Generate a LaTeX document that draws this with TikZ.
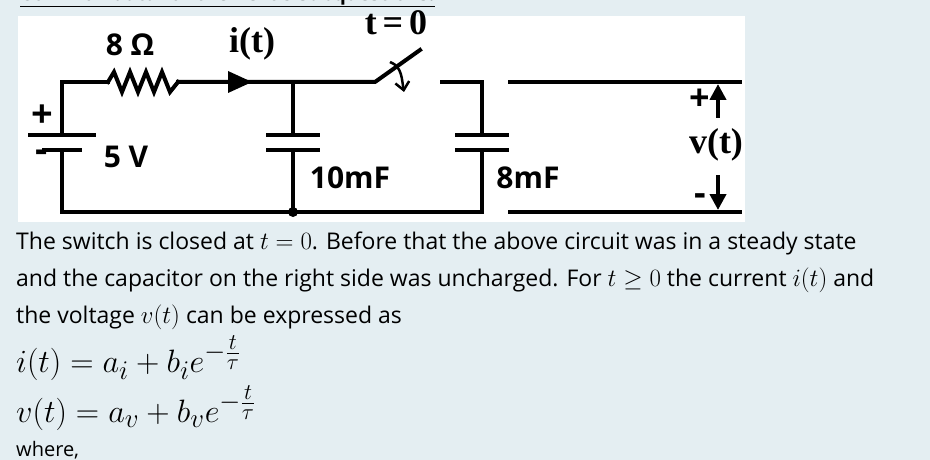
\documentclass[tikz,border=0pt]{standalone}
\usepackage{graphicx}
\usepackage{fontspec}
\setmainfont{Open Sans}
\newfontfamily\serifb{Liberation Serif}
\usetikzlibrary{arrows.meta}
\definecolor{bg}{HTML}{E4EEF2}
\tikzset{w/.style={line width=4pt,line cap=rect},
 lab/.style={font=\fontsize{30}{30}\selectfont\bfseries,inner sep=0pt},
 slab/.style={font=\fontsize{36}{36}\selectfont\serifb\bfseries,inner sep=0pt},
 txt/.style={font=\fontsize{23}{23}\selectfont,anchor=west,inner sep=0pt}}
\begin{document}
\begin{tikzpicture}[x=1pt,y=-1pt]
\useasboundingbox (0,0) rectangle (930,460);
\fill[bg] (0,0) rectangle (930,460);
\fill[white] (18,16) rectangle (745,222);
\node[txt,font=\fontsize{19.5}{19.5}\selectfont\bfseries] (hd) at (20,-4) {\underline{Common data for the next 5 subquestions:}};
% coordinates
\coordinate (bl) at (62,212); \coordinate (tl) at (62,82);
\coordinate (r1) at (108,82); \coordinate (r2) at (178,82);
\coordinate (j) at (293,82); \coordinate (jb) at (293,212);
\coordinate (s1) at (375,82); \coordinate (s2) at (420,50);
\coordinate (s3) at (442,82); \coordinate (c2) at (482,82); \coordinate (c2b) at (482,212);
% battery
\draw[w] (bl) -- (62,150); \draw[w] (62,135) -- (tl) -- (r1);
\draw[w] (30,135) -- (94,135); \draw[w] (44,150) -- (80,150);
\draw[w] (r1) -- (114,72) -- (122,92) -- (130,72) -- (138,92) -- (146,72) -- (154,92) -- (162,72) -- (170,92) -- (r2);
\draw[w] (r2) -- (j) -- (s1) -- (s2);
\fill (228,71) -- (252,82) -- (228,93) -- cycle;
\draw[line width=2.5pt,-{Straight Barb[length=8pt,width=14pt]}] (390,62) to[out=-20,in=100] (404,92);
\draw[w] (s3) -- (c2) -- (482,135); \draw[w] (482,150) -- (c2b) -- (bl);
\draw[w] (j) -- (293,135); \draw[w] (293,150) -- (jb);
\draw[w] (268,135) -- (318,135); \draw[w] (268,150) -- (318,150);
\draw[w] (457,135) -- (507,135); \draw[w] (457,150) -- (507,150);
\fill (jb) circle (5);
\draw[w] (510,82) -- (740,82); \draw[w] (510,212) -- (740,212);
\draw[line width=4pt,-{Triangle[length=16pt,width=16pt]}] (718,118) -- (718,84);
\draw[line width=4pt,-{Triangle[length=16pt,width=16pt]}] (718,175) -- (718,210);
% labels
\node[lab] (l8) at (130,45) {8 Ω};
\node[lab] (l5) at (126,157) {5 V};
\node[lab] (l10) at (350,178) {10mF};
\node[lab] (l8m) at (528,178) {8mF};
\node[lab,font=\fontsize{38}{38}\selectfont\bfseries] (lp) at (42,116) {+};
\node[lab,font=\fontsize{38}{38}\selectfont\bfseries] (lm) at (42,156) {-};
\node[lab,font=\fontsize{36}{36}\selectfont\bfseries] (vp) at (700,100) {+};
\node[lab,font=\fontsize{36}{36}\selectfont\bfseries] (vm) at (700,200) {-};
\node[slab] (it) at (252,44) {i(t)};
\node[slab] (t0) at (396,23) {t\,=\,0};
\node[slab] (vt) at (716,145) {v(t)};
% text
\node[txt] (p1) at (16,243) {The switch is closed at {\Huge$t=0$}. Before that the above circuit was in a steady state};
\node[txt] (p2) at (16,280) {and the capacitor on the right side was uncharged. For {\Huge$t\geq0$} the current {\Huge$i(t)$} and};
\node[txt] (p3) at (16,317) {the voltage {\Huge$v(t)$} can be expressed as};
\node[txt] (e1) at (16,358) {\scalebox{1.3}{\Huge$i(t)=a_i+b_ie^{-\frac{t}{\tau}}$}};
\node[txt] (e2) at (16,408) {\scalebox{1.3}{\Huge$v(t)=a_v+b_ve^{-\frac{t}{\tau}}$}};
\node[txt,font=\fontsize{20}{20}\selectfont] (wh) at (16,450) {where,};
\end{tikzpicture}
\end{document}
